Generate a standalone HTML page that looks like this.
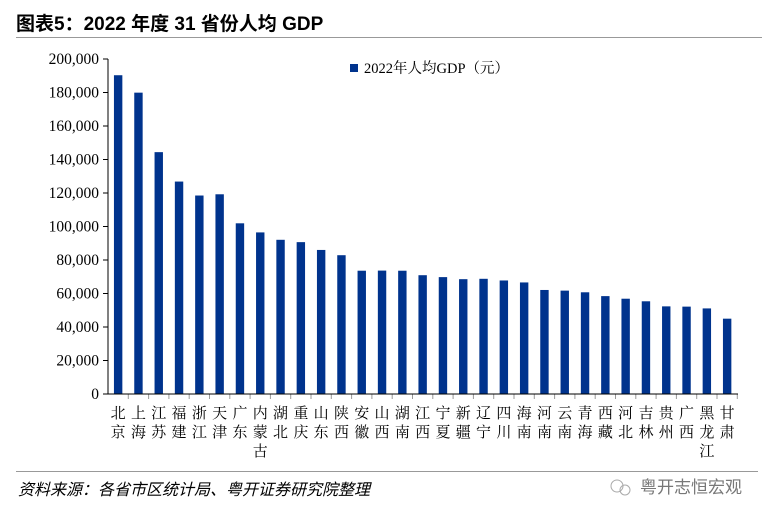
<!DOCTYPE html>
<html><head><meta charset="utf-8"><style>
body{margin:0;background:#fff;}
</style></head><body>
<svg width="778" height="517" xmlns="http://www.w3.org/2000/svg">
<rect width="778" height="517" fill="#fff"/>
<text x="16" y="30" font-family="Liberation Sans, Noto Sans CJK SC, sans-serif" font-weight="bold" font-size="19" fill="#000">图表5：2022 年度 31 省份人均 GDP</text>
<line x1="16" y1="37.5" x2="762" y2="37.5" stroke="#999" stroke-width="1"/>
<g font-family="Liberation Serif, Noto Serif CJK SC, serif" font-size="15.5" fill="#000" text-anchor="end" id="yt"></g>
<g id="bars"></g>
<line x1="108" y1="59" x2="108" y2="394" stroke="#000" stroke-width="1"/>
<line x1="108" y1="394" x2="738" y2="394" stroke="#000" stroke-width="1"/>
<rect x="350" y="64" width="8" height="8" fill="#00338d"/>
<text x="364" y="73" font-family="Liberation Serif, Noto Serif CJK SC, serif" font-size="14.5" fill="#000">2022年人均GDP（元）</text>
<g id="xl" font-family="Liberation Serif, Noto Serif CJK SC, serif" font-size="15" fill="#000" text-anchor="middle"></g>
<line x1="16" y1="471.5" x2="758" y2="471.5" stroke="#999" stroke-width="1"/>
<text x="18" y="495" font-family="Liberation Sans, Noto Sans CJK SC, sans-serif" font-style="italic" font-size="16" fill="#000">资料来源：各省市区统计局、粤开证券研究院整理</text>
<circle cx="617" cy="486" r="6" fill="none" stroke="#aaa"/>
<circle cx="625" cy="490" r="5" fill="none" stroke="#aaa"/>
<text x="640" y="493" font-family="Noto Sans CJK SC, sans-serif" font-size="17" fill="#777">粤开志恒宏观</text>
</svg>
<script>
const ns="http://www.w3.org/2000/svg";
const yt=document.getElementById('yt');
for(let i=0;i<=10;i++){const v=i*20000;const y=394-v*335/200000;
 const t=document.createElementNS(ns,'text');t.setAttribute('x',99);t.setAttribute('y',y+5);t.textContent=v.toLocaleString('en-US');yt.appendChild(t);
 const l=document.createElementNS(ns,'line');l.setAttribute('x1',103);l.setAttribute('x2',108);l.setAttribute('y1',y);l.setAttribute('y2',y);l.setAttribute('stroke','#000');yt.appendChild(l);}
const names=["北京","上海","江苏","福建","浙江","天津","广东","内蒙古","湖北","重庆","山东","陕西","安徽","山西","湖南","江西","宁夏","新疆","辽宁","四川","海南","河南","云南","青海","西藏","河北","吉林","贵州","广西","黑龙江","甘肃"];
const vals=[190313,179907,144390,126829,118496,119235,101905,96474,92059,90663,86003,82864,73603,73675,73598,70923,69781,68552,68775,67777,66602,62106,61716,60724,58438,56888,55347,52321,52164,51096,44968];
const bars=document.getElementById('bars'),xl=document.getElementById('xl');
const step=20.3;
for(let i=0;i<31;i++){const cx=108+step*(i+0.5);const h=vals[i]*335/200000;
 const r=document.createElementNS(ns,'rect');r.setAttribute('x',cx-4.2);r.setAttribute('width',8.4);r.setAttribute('y',394-h);r.setAttribute('height',h);r.setAttribute('fill','#00338d');bars.appendChild(r);
 const tk=document.createElementNS(ns,'line');const tx=108+step*(i+1);tk.setAttribute('x1',tx);tk.setAttribute('x2',tx);tk.setAttribute('y1',394);tk.setAttribute('y2',399);tk.setAttribute('stroke','#999');bars.appendChild(tk);
 [...names[i]].forEach((c,j)=>{const t=document.createElementNS(ns,'text');t.setAttribute('x',cx);t.setAttribute('y',418+j*19);t.textContent=c;xl.appendChild(t);});}
</script>
</body></html>
